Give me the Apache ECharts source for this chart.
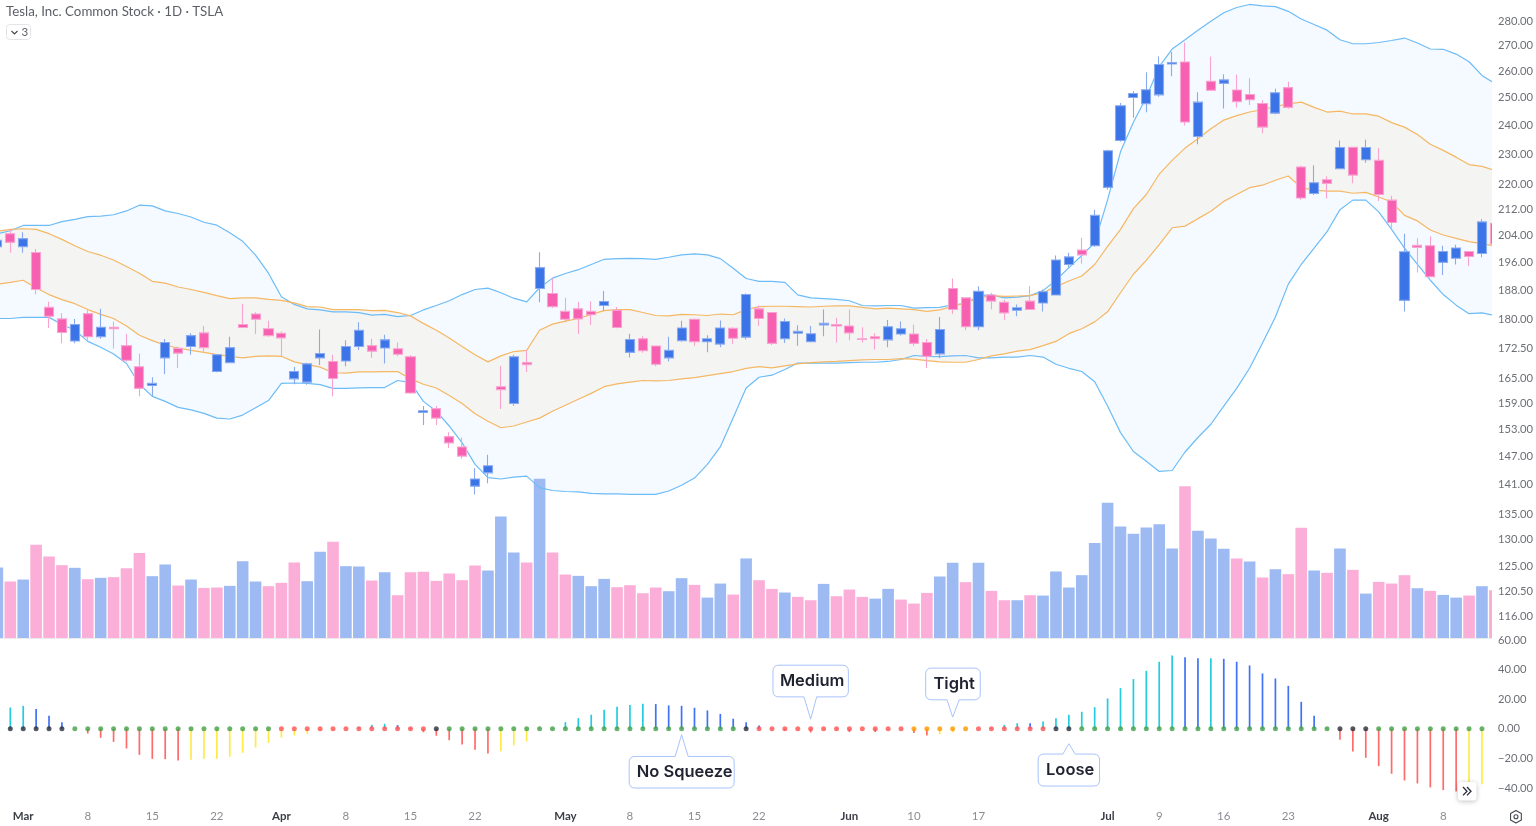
<!DOCTYPE html>
<html><head><meta charset="utf-8">
<style>html,body{margin:0;padding:0;background:#fff}#c{width:1536px;height:826px}</style>
<script src="https://cdn.jsdelivr.net/npm/echarts@6/dist/echarts.min.js"></script>
</head><body><div id="c"></div>
<script>
const FONT = 'Lato, "Open Sans", sans-serif';
const title = 'Tesla, Inc. Common Stock · 1D · TSLA';
const firstIndex = -1;
const opens = [200.5,204.4,200.5,198.8,183.3,180.2,174.4,181.6,175.5,178,
173.2,167.9,163.3,170.1,172.5,173,176.5,166.7,168.9,178.7,
181.5,177.6,176.4,164.9,164.1,170.1,169.2,169.3,173,173.2,
172.6,172.4,170.4,156.9,157.8,151.4,149.1,140.7,143.5,163,
159,168.9,188.5,187.1,182.2,182.9,182.2,183.8,182.5,171.5,
175,173.1,170.1,174.5,180.1,174.2,173.6,177.7,175.4,182.9,
181.9,175,176.4,174.2,178.6,178.7,178.3,175,175.5,174.7,
176.2,176.2,174,171.1,188.5,185.9,178.1,186.7,184.7,182.5,
185,184.5,186.7,195.3,199.5,200.8,218.9,234.6,250,247.7,
251,262.7,263.5,236,256.1,255.3,252.8,251.1,247.8,244.3,
253.7,225.6,216.9,221.4,225,232.3,228,227.8,214.8,185.2,
200.9,200.8,195.9,197.1,199.1,198.5,207.6];
const closes = [202.4,201.8,202.9,188.2,180.9,176.6,178.7,175.5,178,177.6,
169.5,162.6,163.8,174,171.3,175.8,172.7,170.9,172.7,177.9,
180.1,175.8,175.2,166.7,168.6,171.2,165,173,177.2,171.8,
174.7,171,161.5,157.3,155.6,150,147.1,142.2,145,162.3,
170.4,168.4,194.4,183.5,180.1,180.2,181.3,184.9,177.9,174.8,
171.9,168.5,172,177.8,174.2,175,177.8,175.1,186.8,180.3,
173.8,179.5,176.9,176.3,179,178.3,176.5,174.8,175,178.1,
177.6,173.8,170.5,177.4,182.7,178.1,187.7,185,181.8,183.2,
182.7,187.6,196.6,197.5,198.1,210,231.1,247,251.5,252.9,
262.5,263.3,241.1,248.3,252.7,256.6,248.5,249.2,239.3,251.8,
246.4,215.5,220.4,220.2,232.2,222.9,232.2,216.6,207.8,199,
200.3,191.8,199.1,200.1,197.6,208,201.3];
const lows = [199.6,198.7,198.7,186.9,177.8,173.8,173.8,174.6,175,172.5,
169.2,160.7,160.7,166.1,167.6,170.9,171.7,166.5,168.9,177.7,
176.2,175.5,170.5,163.6,163.5,168.3,160.7,168,172.1,170.1,
168.7,170.5,161.3,154,154,148.9,146.5,139,141.3,157.7,
158.5,166.6,184.7,183.1,179.3,176.2,178.6,182.3,177.7,170.2,
171.4,168,169.2,174.2,173.2,171.5,172.8,173.7,174.8,178.3,
173.4,173.9,173.2,174,175.6,174,174.6,174,172.2,172.8,
175.8,173.2,167.6,170,181.5,177.2,177.2,182.7,179.9,180.9,
182.7,182.2,186.6,194.3,195.5,200.5,218.2,234.2,242.6,244.6,
250.3,258,239.9,233.3,252.7,246,246.3,247.3,237.1,243.9,
245.9,214.9,216.4,215.3,225,220.2,227,214.5,206.2,182.2,
193,191.8,192.3,195.3,194.8,197.4,201];
const highs = [203.9,205.7,204.8,199.8,184.8,181.7,180.2,182.7,182.9,179.5,
176.3,171.2,165.3,174.9,173,176.4,178.3,171.1,175.5,184.3,
182,179.7,176.9,167.8,168.9,177.4,170.9,174.6,179.3,175,
176,174,170.8,158.4,158.4,152.4,151.2,144.5,147.4,168.1,
170.9,172.1,198.9,191.3,185.9,184.8,184.9,187.8,183.4,176.3,
175.6,173.1,175.5,179.7,180.3,175.9,179.8,178,187.1,183.8,
181.9,180.3,178.5,178.3,182.7,180.5,182.7,178,176.4,179.9,
179.5,178.7,174.9,180.7,191.3,186,189.1,187.3,185.3,184.1,
189.1,188.2,197.9,198.7,203.2,211.8,231.4,248,252.4,259.5,
265.6,267.4,271.2,252,265.6,258.8,258.7,257.2,249,253.3,
255.9,226,226.2,222.5,234.6,232.3,234.9,232,216.2,204.4,
203,203.6,200.8,201.1,199.2,208.8,207.6];
const bbUpper = [204.4,205.3,206.9,206.9,206.9,208.1,208.8,209.6,209.8,210.2,
211.4,213.2,213,211.4,210.6,209.5,207.9,207,204.7,202.1,
198,192.8,186.2,184.1,182.9,182.6,182.1,182.1,181.9,181.2,
181.4,180.8,181.1,182.6,183.8,185.1,186.8,188.2,188.6,187.3,
185.8,184.8,188.7,191.4,192.7,193.8,195.3,196.8,197,197.1,
197,196.8,197.4,198.1,198.4,198.1,197,194.2,191.3,190.5,
190.5,190.2,186.7,185.9,185.7,185.5,185.1,183.8,183.7,183.8,
183.8,183.1,183.2,183.3,184,184.3,186.5,186.7,185.9,186.1,
186.5,187.9,190.8,194.4,197.9,201.7,214.9,230.7,241,250.1,
261.7,268.6,272.3,276.2,279.9,283.4,285.6,286.9,286.3,286,
284,280.8,278.5,276.2,272.3,270.7,270.7,271.2,272,273,
271,268.6,268.5,266.6,263.6,258.3,255.2];
const bbLower = [180.3,180.3,180.6,180.6,180.6,178.7,177.2,174.3,172.8,171.1,
168.7,163.6,160.7,159.5,158.1,157.5,156.7,155.6,155.4,156.3,
158,159.7,163.8,163.9,163.8,163.5,162.6,162.6,162.7,162.8,
162.8,164.5,164,159.5,157.2,153.8,150,145.3,142.5,142.2,
142.6,142.8,140.4,139.8,139.6,139.5,139.2,139.1,139.1,139,
139,139,139.7,140.9,142.4,145.3,149.1,155.7,162.7,165.3,
165.8,167.2,168.8,168.8,168.8,168.8,168.9,169,169,169.2,
169.7,170.7,170.5,170.4,170.6,170.7,170.1,170.1,170.3,170.3,
170.7,170.3,168.5,167.5,166.7,164.2,158.4,152.3,148.1,146,
143.8,144,148,151.2,154.2,158.4,162.6,167.5,173.9,180.7,
189.7,195.3,200.1,205,211.8,214.8,214.8,211.1,205.7,200.1,
195.3,190.8,186.8,183.9,181.6,181.8,181.1];
const kcUpper = [205.1,205.7,205.9,205.7,204.4,202.7,200.8,199.1,198,196.6,
194.7,192.8,190.5,190,188.9,188.2,187.4,186.5,185.7,185.9,
185.9,185.5,185.2,184.5,183.5,183.4,182.7,182.7,182.7,182.4,
182.5,181.9,181,179,177.2,175.2,173,170.9,169.1,170.6,
171.7,172,177.2,178.8,179.6,180.3,181.4,182.4,182.7,182.7,
181.9,181.1,181,181.4,181.3,181.1,181.5,181.3,182.7,183.5,
183.6,183.6,183.5,183.4,183.6,183.7,183.7,183.3,182.9,183.1,
182.9,182.7,182.2,182.6,183.6,184.5,185.9,186.5,186.3,186.4,
186.5,187.3,189,190.6,192,195.3,200.6,205.7,212.1,216.6,
223.2,227.8,232,235.2,238.7,241.8,243.4,244.7,245.6,246.7,
247.7,248.3,246.4,244.7,245,244,244,243.2,240.9,239.3,
236.7,233.3,231.2,228.9,226.4,225.8,224.5];
const kcLower = [189.7,190.2,190.8,188.6,186.8,185.4,184.3,182.7,181.4,180.3,
178.3,175.9,174.5,173.3,172.6,172,171.5,170.9,170.5,170.1,
170.5,170.6,170.5,169.1,168.4,167.8,166.4,166.3,166.6,166.6,
166.7,166.7,164.9,163.6,162.7,160.9,159,156.6,154.9,153.4,
153.8,154.7,155.6,157.2,158.6,160,161.4,163,163.7,164.1,
164.5,164.4,164.5,164.9,165.2,165.7,166.2,166.7,167.5,167.9,
167.6,168.1,168.6,168.9,169.1,169.2,169.4,169.6,169.7,169.7,
169.9,169.8,169.4,169.1,169,169,169.7,170.6,171.1,171.8,
172.2,173.2,174.3,176.3,177.6,179.4,182.1,187.3,192.5,196.5,
201.1,206.2,206.7,209,211.3,214.4,216.6,218.8,219.6,221.2,
222.6,218.8,218,217.7,217.7,217,217.3,215.8,214.2,210,
208.3,205.5,204,203,202,201.4,200.7];
const volumes = [107,85.7,88.7,141.5,123.7,110.5,106.5,89.2,91.3,92.3,
106,128.8,93.8,111.5,79.6,88.7,76,76.6,79.1,116.6,
85.7,78.6,83.7,114.6,86.2,130.8,146,109,108.5,87.2,
99.9,64.9,99.9,100.4,86.7,97.9,87.7,110,102.4,184.5,
129.8,114.6,241.8,129.8,96.3,94.3,78.6,89.7,77.1,80.1,
67.9,76.6,71,90.8,80.6,61.3,82.6,65.9,120.7,87.7,
74.5,69,62.4,57.3,82.1,63.4,73.5,62.4,59.8,74.5,
58.3,52.2,68.4,93.3,114.1,84.7,114.1,71.5,57.3,57.3,
64.9,64.4,100.9,76.6,95.3,144,205.3,169.3,158.2,167.8,
172.4,135.9,230.2,162.7,151.1,135.4,120.7,116.1,91.8,104.4,
96.8,167.3,102.4,98.9,135.9,103.4,67.4,85.2,82.6,95.3,
75.5,71.5,65.4,61.3,64.4,78.6,72.5];
const volumeDirs = 'bpbpppbpbp'+'ppbbpbppbb'+'bpppbbpbbp'+'bpppppppbb'+'bpbppbbbpp'+'ppbbpbbpbp'+'pbppbpppbb'+'pppbbpbppb'+'pbbbbbbbbb'+'bbpbbbpbpb'+'ppbpbpbppp'+'bpbbpbp';
const momentum = [13,14.4,15.5,13.3,8.8,4.5,0,-3.2,-6.1,-8.8,
-13.3,-17.6,-20.3,-20.5,-21.4,-20.9,-20.3,-20.3,-18.9,-16.2,
-12.6,-9.5,-5.9,-4.5,-3.4,-1.4,-0.8,-0.3,1.1,2.7,
3.4,2.5,0.6,-2.3,-4.7,-7.7,-10.6,-14.2,-16.7,-15.1,
-11.3,-8.6,0.3,0.4,4.5,7.2,9.5,12.8,14.9,16,
16.9,16.7,15.8,15.5,14.2,12.4,10.1,6.8,4.5,2.3,
0.4,-1,-0.6,-2.5,-1,-1,-2.2,-0.5,-2.2,-0.5,
-0.5,-2.8,-4.5,-3.6,-2.3,-0.5,0,0.5,2.7,3.8,
3.8,5,7.2,9.5,11.5,14.6,20.5,27.5,33.6,39.2,
45.3,49.5,48.4,47.7,47.7,47.3,45.3,42.8,37.4,34,
29,18.2,8.8,0.3,-7.4,-15.3,-19.6,-25.2,-30.4,-34.9,
-36.9,-39.6,-41.4,-42.3,-41,-37.4,-35];
const momentumTones = 'cccbbbrrrrrrrrr'+'yyyyyyyyyyyyy'+'ccc'+'bb'+'rrrrrr'+'yyy'+'ccccccccc'+'bbbbbbbbbb'+'ryryyryryyrryyyr'+'ccc'+'b'+'ccccccccccc'+'bb'+'c'+'bbbbbbbbb'+'rrrrrrrrrr'+'yyy';
const squeezeStates = 'kkkkkk'+'gggggggggggggggg'+'rrrrrrrrrrrr'+'k'+'ggggggggggggggggggggggg'+'k'+'rrrrrrrrrrrr'+'ooooo'+'rrrrrr'+'kk'+'gggggggggggggggggggg'+'kkk'+'gggggggggg';
const priceTicks = [280,270,260,250,240,230,220,212,204,196,188,180,172.5,165,159,153,147,141,135,130,125,120.5,116];
const momentumTicks = [60,40,20,0,-20,-40];
const xTickIndex = [1,6,11,16,21,26,31,36,43,48,53,58,65,70,75,85,89,94,99,106,111];
const xTickLabels = ['Mar','8','15','22','Apr','8','15','22','May','8','15','22','Jun','10','17','Jul','9','16','23','Aug','8'];
const annotIndex = [52,62,73,82];
const annotValue = [-4,6.5,7.9,-10.1];
const annotLabels = ['No Squeeze','Medium','Tight','Loose'];

// presentation
const boxes = [
 {l:-52.4,r:52.6,t:21.7,b:53.3,bl:-6.4,br:6.6,tx:3},
 {l:-37.7,r:37.7,t:-54,b:-22.3,bl:-6.7,br:6,tx:1.5},
 {l:-27,r:27.6,t:-49,b:-17.3,bl:-5.7,br:6.6,tx:1.2},
 {l:-30.7,r:30.7,t:10.3,b:42.3,bl:-6,br:6.3,tx:1.3}];
const toneColor = {c:'#22cde2',b:'#3f72f6',r:'#ff6b6b',y:'#ffeb45'};
const stateColor = {k:'#2a2e39',g:'#43a047',r:'#ff5252',o:'#ff9800'};
const volColor = {b:'#9dbaf3',p:'#fbaed8'};
const xMin = -10.3/12.91, xMax = (1492-10.3)/12.91;
const idx = opens.map((_,k)=>k+firstIndex);
const pair = arr => arr.map((v,k)=>[idx[k],v]);

function bandSeries(up,lo,fill,z){
  return {type:'custom',xAxisIndex:0,yAxisIndex:0,z,clip:true,silent:true,data:[[0]],
    encode:{x:0,y:-1},
    renderItem(p,api){
      const pts=[];
      up.forEach((v,k)=>pts.push(api.coord([idx[k],v])));
      for(let k=lo.length-1;k>=0;k--)pts.push(api.coord([idx[k],lo[k]]));
      return {type:'polygon',shape:{points:pts},style:{fill:fill}};
    }};
}
function lineSeries(arr,color){
  return {type:'line',xAxisIndex:0,yAxisIndex:0,z:4,data:pair(arr),showSymbol:false,symbol:'none',silent:true,
    lineStyle:{color,width:1.2},animation:false};
}
function calloutPath(tx,ty,b){
  const R=6,L=tx+b.l,Rt=tx+b.r,T=ty+b.t,B=ty+b.b,BL=tx+b.bl,BR=tx+b.br;
  let d=`M${L+R} ${T}`;
  if(b.t>0) d+=`L${BL} ${T}L${tx} ${ty}L${BR} ${T}`;
  d+=`L${Rt-R} ${T}Q${Rt} ${T} ${Rt} ${T+R}L${Rt} ${B-R}Q${Rt} ${B} ${Rt-R} ${B}`;
  if(b.t<0) d+=`L${BR} ${B}L${tx} ${ty}L${BL} ${B}`;
  d+=`L${L+R} ${B}Q${L} ${B} ${L} ${B-R}L${L} ${T+R}Q${L} ${T} ${L+R} ${T}Z`;
  return d;
}

const chart = echarts.init(document.getElementById('c'),null,{renderer:'canvas'});
chart.setOption({
  animation:false,backgroundColor:'#fff',
  textStyle:{fontFamily:FONT},
  title:{text:title,left:6,top:5,padding:0,textStyle:{fontFamily:FONT,fontSize:13.3,fontWeight:400,color:'#5c5f66'}},
  grid:[{left:0,right:44,top:0,height:638},{left:0,right:44,top:640,height:159.84}],
  xAxis:[
    {gridIndex:0,type:'value',min:xMin,max:xMax,axisLabel:{show:false},axisTick:{show:false},splitLine:{show:false},
     axisLine:{show:true,onZero:false,lineStyle:{color:'#ebebeb',width:1}}},
    {gridIndex:1,type:'value',min:xMin,max:xMax,axisTick:{show:false},splitLine:{show:false},
     axisLine:{show:false,onZero:false},
     axisLabel:{show:true,margin:10,customValues:xTickIndex,hideOverlap:false,
       formatter:v=>{const s=xTickLabels[xTickIndex.indexOf(v)]||'';return /^[A-Z]/.test(s)?'{m|'+s+'}':'{d|'+s+'}';},
       rich:{m:{fontFamily:FONT,fontSize:11.5,fontWeight:700,color:'#3b3e46'},d:{fontFamily:FONT,fontSize:11.5,color:'#8a8d93'}}}}
  ],
  yAxis:[
    {gridIndex:0,type:'log',logBase:10,min:112.4,max:288.8,position:'right',z:10,splitLine:{show:false},axisTick:{show:false},axisLine:{show:false},
     axisLabel:{show:true,customValues:priceTicks,margin:6,align:'left',color:'#6c6f75',fontSize:11.2,fontFamily:FONT,formatter:v=>Number(v).toFixed(2),showMinLabel:true,showMaxLabel:true}},
    {gridIndex:0,type:'value',min:0,max:968,show:false,splitLine:{show:false}},
    {gridIndex:1,type:'value',min:-48,max:60,position:'right',z:10,splitLine:{show:false},axisTick:{show:false},axisLine:{show:false},
     axisLabel:{show:true,customValues:momentumTicks,margin:6,align:'left',color:'#6c6f75',fontSize:11.2,fontFamily:FONT,formatter:v=>Number(v).toFixed(2).replace('-','\u2212'),showMinLabel:true,showMaxLabel:true}}
  ],
  series:[
    bandSeries(bbUpper,bbLower,'#f4faff',1),
    bandSeries(kcUpper,kcLower,'#f4f4f2',2),
    {type:'bar',xAxisIndex:0,yAxisIndex:1,z:3,barWidth:11.6,silent:true,
     data:volumes.map((v,k)=>({value:[idx[k],v],itemStyle:{color:volColor[volumeDirs[k]]}}))},
    lineSeries(bbUpper,'#6dbcf7'),lineSeries(bbLower,'#6dbcf7'),
    lineSeries(kcUpper,'#f6b763'),lineSeries(kcLower,'#f6b763'),
    {type:'candlestick',xAxisIndex:0,yAxisIndex:0,z:5,barWidth:9.6,silent:true,
     data:opens.map((o,k)=>[idx[k],o,closes[k],lows[k],highs[k]]),
     itemStyle:{color:'#3a74e7',color0:'#f75fb0',borderColor:'#8aaaf0',borderColor0:'#f9a3d1',borderWidth:1.1}},
    {type:'bar',xAxisIndex:1,yAxisIndex:2,z:3,barWidth:1.7,silent:true,
     data:momentum.map((v,k)=>({value:[idx[k],v],itemStyle:{color:toneColor[momentumTones[k]]}}))},
    {type:'scatter',xAxisIndex:1,yAxisIndex:2,z:4,symbolSize:5,silent:true,
     data:momentum.map((v,k)=>({value:[idx[k],0],itemStyle:{color:stateColor[squeezeStates[k]]}}))},
    {type:'custom',xAxisIndex:1,yAxisIndex:2,z:6,clip:false,silent:true,
     data:annotIndex.map((v,k)=>[v,annotValue[k]]),encode:{x:0,y:1},
     renderItem(p,api){
       const k=p.dataIndex,b=boxes[k],c=api.coord([api.value(0),api.value(1)]);
       const tx=c[0],ty=c[1];
       return {type:'group',children:[
         {type:'path',shape:{pathData:calloutPath(tx,ty,b)},style:{fill:'#fff',stroke:'#a9c3fb',lineWidth:1}},
         {type:'text',style:{text:annotLabels[k],x:tx+(b.l+b.r)/2+b.tx,y:ty+(b.t+b.b)/2,textAlign:'center',textVerticalAlign:'middle',
           font:'600 16.5px Inter, '+FONT,fill:'#1f2230'}}
       ]};
     }}
  ],
  graphic:[
    {type:'rect',left:1492,top:0,z:7,silent:true,shape:{width:44,height:800},style:{fill:'#fff'}},
    {type:'group',left:6,top:24,silent:true,children:[
      {type:'rect',shape:{x:0,y:0,width:24,height:15,r:3},style:{fill:'#fff',stroke:'#e3e4e6',lineWidth:1}},
      {type:'polyline',shape:{points:[[5,6.5],[8,9.5],[11,6.5]]},style:{stroke:'#444',fill:null,lineWidth:1.1}},
      {type:'text',x:15,y:2.2,style:{text:'3',font:'11.5px '+FONT,fill:'#5c5f66'}}
    ]},
    {type:'group',left:1458,top:782,silent:true,z:20,children:[
      {type:'rect',z:20,shape:{x:0,y:0,width:18.5,height:18.5,r:3},style:{fill:'#fff',shadowBlur:5,shadowColor:'rgba(0,0,0,0.25)',shadowOffsetY:1}},
      {type:'polyline',z:21,shape:{points:[[5,5],[9,9.2],[5,13.4]]},style:{stroke:'#2a2e39',fill:null,lineWidth:1.3}},
      {type:'polyline',z:21,shape:{points:[[9,5],[13,9.2],[9,13.4]]},style:{stroke:'#2a2e39',fill:null,lineWidth:1.3}}
    ]},
    {type:'group',left:1510,top:810,silent:true,children:[
      {type:'polygon',shape:{points:[[6,0],[11.4,3],[11.4,9.4],[6,12.4],[0.6,9.4],[0.6,3]]},style:{fill:'#fff',stroke:'#44474f',lineWidth:1.1,lineJoin:'round'}},
      {type:'circle',shape:{cx:6,cy:6.2,r:2},style:{fill:'#fff',stroke:'#44474f',lineWidth:1.1}}
    ]}
  ]
});
</script></body></html>
